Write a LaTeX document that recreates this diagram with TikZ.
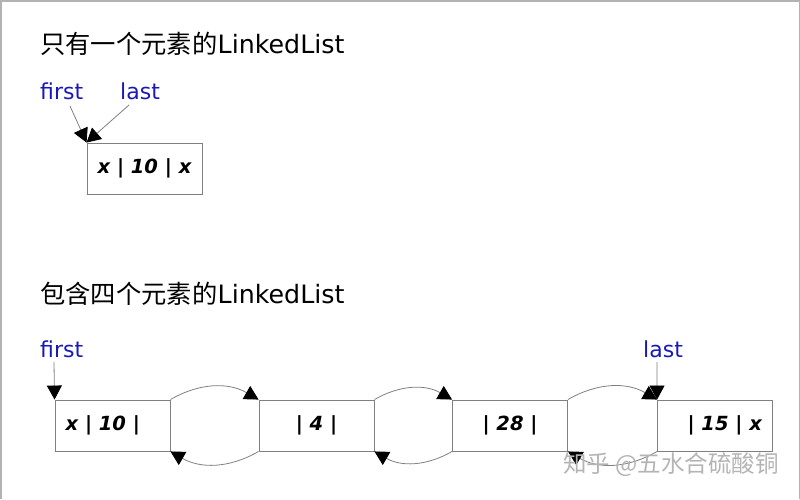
\documentclass[tikz,border=0pt]{standalone}
\usepackage{fontspec}
\setmainfont{DejaVu Sans}
\newfontfamily\cjk{Noto Sans CJK SC}
\usetikzlibrary{arrows.meta}
\definecolor{ptrblue}{RGB}{25,25,185}
\definecolor{boxgray}{RGB}{128,128,128}
\definecolor{wmgray}{RGB}{180,180,180}
\tikzset{
  listbox/.style={draw=boxgray, line width=0.9pt, minimum width=115pt, minimum height=51pt, inner sep=0pt,
    font=\fontsize{19.5}{22}\selectfont\bfseries\itshape},
  title/.style={anchor=base west, inner sep=0pt, font=\fontsize{25.3}{29}\selectfont},
  ptr/.style={anchor=base west, inner sep=0pt, text=ptrblue, font=\fontsize{22}{26}\selectfont},
  link/.style={draw=boxgray, line width=0.8pt, -{Triangle[length=14pt,width=15pt,fill=black,color=black]}},
}
\begin{document}
\begin{tikzpicture}[x=1pt,y=-1pt]
\useasboundingbox (0,0) rectangle (800,499);
\draw[color=gray!60, line width=1.5pt] (0.75,499) -- (0.75,0.75) -- (799.25,0.75) -- (799.25,499);

% single element
\node[title] (t1) at (40,53) {\cjk 只有一个元素的};
\node[title, anchor=base west] (t1b) at (t1.base east) {LinkedList};
\node[ptr] (f1) at (40,99) {first};
\node[ptr] (l1) at (120,99) {last};
\node[listbox] (n1) at (144.5,168.5) {x | 10 | x};
\coordinate (f1s) at (70,106);
\coordinate (l1s) at (129,105);
\draw[link] (f1s) -- (n1.north west);
\draw[link] (l1s) -- (n1.north west);

% four elements
\node[title] (t2) at (40,303) {\cjk 包含四个元素的};
\node[title, anchor=base west] (t2b) at (t2.base east) {LinkedList};
\node[ptr] (f2) at (40,357) {first};
\node[ptr] (l2) at (643,357) {last};
\node[listbox] (a) at (112.5,425.5) {x | 10 | \phantom{x}};
\node[listbox] (b) at (316.5,425.5) {| 4 |};
\node[listbox] (c) at (510,425.5) {| 28 |};
\node[listbox] (d) at (715,425.5) {\phantom{x} | 15 | x};
\coordinate (f2s) at (54,362);
\coordinate (l2s) at (657,362);
\draw[link] (f2s) -- (a.north west);
\draw[link] (l2s) -- (d.north west);
\draw[link] (a.north east) to[bend left=30] (b.north west);
\draw[link] (b.north east) to[bend left=30] (c.north west);
\draw[link] (c.north east) to[bend left=30] (d.north west);
\draw[link] (b.south west) to[bend left=30] (a.south east);
\draw[link] (c.south west) to[bend left=30] (b.south east);
\draw[link] (d.south west) to[bend left=30] (c.south east);

% watermark
\node[inner sep=0pt, text=wmgray, font=\cjk\fontsize{23.5}{27}\selectfont] (wm) at (671,465) {知乎 @五水合硫酸铜};
\end{tikzpicture}
\end{document}
